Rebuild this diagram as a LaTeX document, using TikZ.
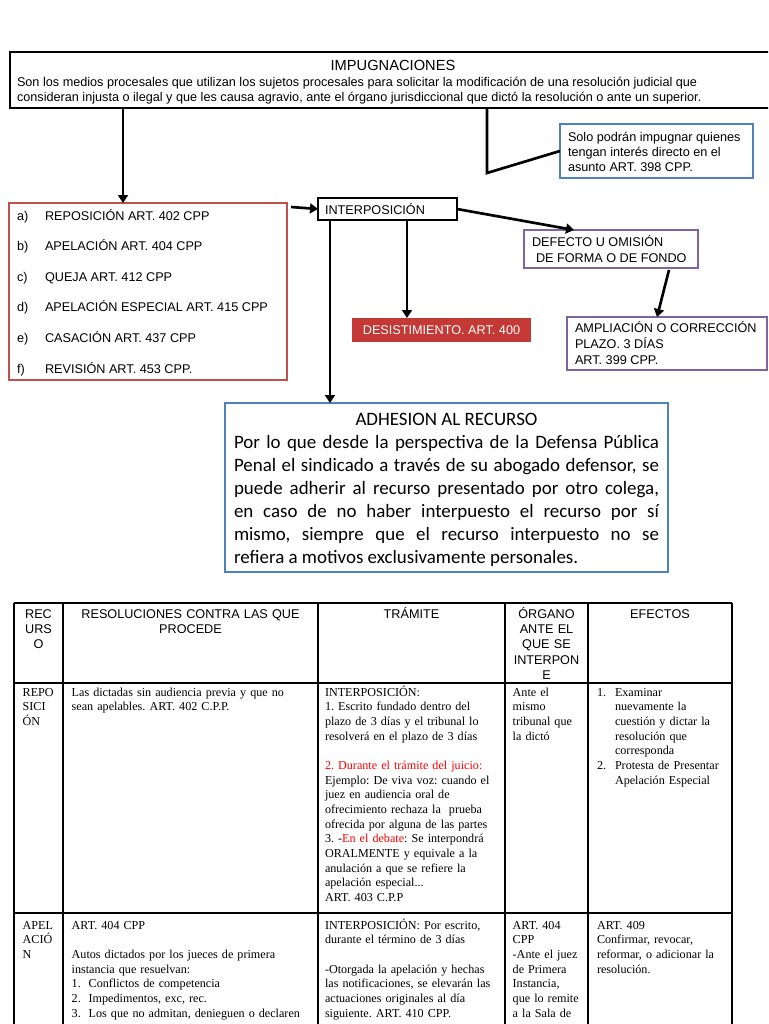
\documentclass[tikz,border=0pt]{standalone}
\usepackage{fontspec}
\setmainfont{Liberation Serif}
\setsansfont{Liberation Sans}
\newfontfamily\calibrifont{Carlito}
\usetikzlibrary{positioning,arrows.meta}
\definecolor{listred}{RGB}{192,80,77}
\definecolor{noteblue}{RGB}{79,129,189}
\definecolor{notepurple}{RGB}{128,100,162}
\definecolor{desistred}{RGB}{196,57,53}
\frenchspacing

\begin{document}
\begin{tikzpicture}[
    x=0.75pt, y=-0.75pt,
    every node/.style={inner sep=0pt, outer sep=0pt},
    boxframe/.style={draw, anchor=north west, line width=1.1pt},
    boxtext/.style={font=\sffamily\fontsize{9.5pt}{11.5pt}\selectfont, align=left},
    connarrow/.style={line width=2pt, -{Triangle[length=6pt, width=7.5pt]}},
    link/.style={line width=2pt},
    colhead/.style={font=\sffamily\fontsize{9.5pt}{11.6pt}\selectfont, text width=#1, align=center, anchor=base},
    tablecell/.style={font=\rmfamily\fontsize{9.1pt}{11pt}\selectfont, text width=200pt, align=left, anchor=base west},
    tablerule/.style={line width=0.9pt}
]
\useasboundingbox (0,0) rectangle (768,1024);
\clip (0,0) rectangle (768,1024);

% Definition box at the top
\node[boxframe, line width=1.5pt, minimum width=573.75pt, minimum height=42pt] (impug) at (10,52) {};
\node[font=\sffamily\fontsize{11pt}{13pt}\selectfont, anchor=base] (imptitle) at (393,70) {IMPUGNACIONES};
\node[boxtext, anchor=base west] (impline1) at (17,86) {Son los medios procesales que utilizan los sujetos procesales para solicitar la modificación de una resolución judicial que};
\node[boxtext, anchor=base west] (impline2) at (17,101.5) {consideran injusta o ilegal y que les causa agravio, ante el órgano jurisdiccional que dictó la resolución o ante un superior.};

% List of remedies
\node[boxframe, draw=listred, minimum width=208.5pt, minimum height=132.75pt] (recursos) at (9,203) {};
\foreach \tag/\name [count=\i] in {a)/{REPOSICIÓN ART. 402 CPP}, b)/{APELACIÓN ART. 404 CPP}, c)/{QUEJA ART. 412 CPP}, d)/{APELACIÓN ESPECIAL ART. 415 CPP}, e)/{CASACIÓN ART. 437 CPP}, f)/{REVISIÓN ART. 453 CPP.}} {
  \node[boxtext, anchor=base west] (tag\i) at (17,{220+(\i-1)*30.6}) {\tag};
  \node[boxtext, anchor=base west] (rec\i) at (45,{220+(\i-1)*30.6}) {\name};
}

% Side notes
\node[boxframe, draw=noteblue, minimum width=144.75pt, minimum height=40.5pt] (solo) at (560,124) {};
\node[boxtext, anchor=west] (solotxt) at ([shift={(8,1)}]solo.west) {Solo podrán impugnar quienes\\tengan interés directo en el\\asunto ART. 398 CPP.};

\node[boxframe, line width=1.3pt, minimum width=104.25pt, minimum height=16.5pt] (interp) at (318,198) {};
\node[boxtext, anchor=west] (interptxt) at ([shift={(7,0)}]interp.west) {INTERPOSICIÓN};

\node[boxframe, draw=notepurple, minimum width=130.5pt, minimum height=28.5pt] (defecto) at (524,230) {};
\node[boxtext, anchor=west] (defectotxt) at ([shift={(8,0)}]defecto.west) {DEFECTO U OMISIÓN\\\hspace*{3pt}DE FORMA O DE FONDO};

\node[boxframe, draw=notepurple, minimum width=150pt, minimum height=39.75pt] (ampl) at (567,317) {};
\node[boxtext, anchor=west, font=\sffamily\fontsize{9.5pt}{12pt}\selectfont] (ampltxt) at ([shift={(8,0)}]ampl.west) {AMPLIACIÓN O CORRECCIÓN\\PLAZO. 3 DÍAS\\ART. 399 CPP.};

\node[anchor=north west, fill=desistred, minimum width=134.25pt, minimum height=18pt, text=white, font=\sffamily\fontsize{9.5pt}{11pt}\selectfont] (desist) at (352,318) {DESISTIMIENTO. ART. 400};

\node[boxframe, draw=noteblue, minimum width=332.25pt, minimum height=126.75pt] (adhesion) at (225,403) {};
\node[text width=318.75pt, align=justify, anchor=base, font=\calibrifont\fontsize{14.2pt}{17.25pt}\selectfont] (adhtxt) at (446.5,425) {\hyphenpenalty=10000 {\centering ADHESION AL RECURSO\par}Por lo que desde la perspectiva de la Defensa Pública\linebreak Penal el sindicado a través de su abogado defensor, se\linebreak puede adherir al recurso presentado por otro colega,\linebreak en caso de no haber interpuesto el recurso por sí\linebreak mismo, siempre que el recurso interpuesto no se\linebreak refiera a motivos exclusivamente personales.};

% Connectors
\coordinate (drop1) at (123,0);
\draw[connarrow] (impug.south -| drop1) -- (recursos.north -| drop1);
\coordinate (bend) at (487,173);
\draw[link] (impug.south -| bend) -- (bend) -- (solo.west);
\draw[connarrow] ([shift={(4,4)}]recursos.north east) -- (interp.west);
\draw[connarrow] (interp.east) -- ([shift={(50,0)}]defecto.north west);
\coordinate (drop2) at (407,0);
\draw[connarrow] (interp.south -| drop2) -- (desist.north -| drop2);
\coordinate (drop3) at (330,0);
\draw[connarrow] (interp.south -| drop3) -- (adhesion.north -| drop3);
\draw[connarrow] ([shift={(-29,2)}]defecto.south east) -- ([shift={(90,0)}]ampl.north west);

% Table grid
\foreach \x in {14,63,318,505,588,732}
  \draw[tablerule] (\x,603) -- (\x,1030);
\foreach \y in {603,683,913}
  \draw[tablerule] (14,\y) -- (732,\y);

% Table header
\node[colhead=36.75pt] (hrec) at (38.5,618) {REC\\URS\\O};
\node[colhead=190pt] (hres) at (190.5,618) {RESOLUCIONES CONTRA LAS QUE\\PROCEDE};
\node[colhead=140pt] (htram) at (411.5,618) {TRÁMITE};
\node[colhead=62.25pt] (horg) at (546.5,618) {ÓRGANO\\ANTE EL\\QUE SE\\INTERPON\\E};
\node[colhead=108pt] (hefe) at (660,618) {EFECTOS};

% Row: reposicion
\node[tablecell] (r1rec) at (22.7,696) {REPO\\SICI\\ÓN};
\node[tablecell] (r1res) at (71.7,696) {Las dictadas sin audiencia previa y que no\\sean apelables. ART. 402 C.P.P.};
\node[tablecell] (r1tram) at (325,696) {INTERPOSICIÓN:\\1. Escrito fundado dentro del\\plazo de 3 días y el tribunal lo\\resolverá en el plazo de 3 días\\\mbox{}\\{\color{red}2. Durante el trámite del juicio:}\\Ejemplo: De viva voz: cuando el\\juez en audiencia oral de\\ofrecimiento rechaza la\ \ prueba\\ofrecida por alguna de las partes\\3. -{\color{red}En el debate}: Se interpondrá\\ORALMENTE y equivale a la\\anulación a que se refiere la\\apelación especial...\\ART. 403 C.P.P};
\node[tablecell] (r1org) at (512.7,696) {Ante el\\mismo\\tribunal que\\la dictó};
\node[tablecell] (r1efe) at (597,696) {\begin{tabular}[t]{@{}p{13.5pt}@{}l@{}}
1. & Examinar\\
 & nuevamente la\\
 & cuestión y dictar la\\
 & resolución que\\
 & corresponda\\
2. & Protesta de Presentar\\
 & Apelación Especial
\end{tabular}};

% Row: apelacion
\node[tablecell] (r2rec) at (22.7,929) {APEL\\ACIÓ\\N};
\node[tablecell] (r2res) at (71.7,929) {ART. 404 CPP\\\mbox{}\\Autos dictados por los jueces de primera\\instancia que resuelvan:\\\begin{tabular}[t]{@{}p{12.75pt}@{}l@{}}
1. & Conflictos de competencia\\
2. & Impedimentos, exc, rec.\\
3. & Los que no admitan, denieguen o declaren
\end{tabular}};
\node[tablecell] (r2tram) at (325,929) {INTERPOSICIÓN: Por escrito,\\durante el término de 3 días\\\mbox{}\\-Otorgada la apelación y hechas\\las notificaciones, se elevarán las\\actuaciones originales al día\\siguiente. ART. 410 CPP.};
\node[tablecell] (r2org) at (512.7,929) {ART. 404\\CPP\\-Ante el juez\\de Primera\\Instancia,\\que lo remite\\a la Sala de};
\node[tablecell] (r2efe) at (597,929) {ART. 409\\Confirmar, revocar,\\reformar, o adicionar la\\resolución.};

\end{tikzpicture}
\end{document}
